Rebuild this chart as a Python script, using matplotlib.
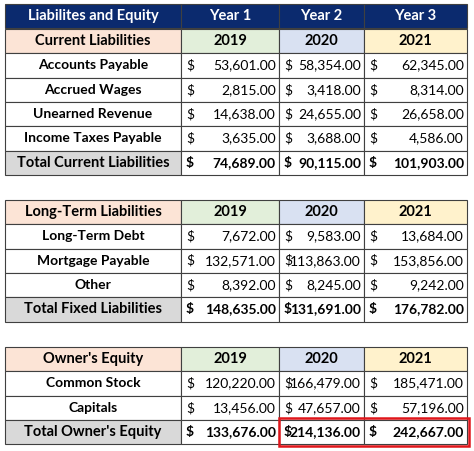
import matplotlib
matplotlib.use('agg')
import matplotlib.pyplot as plt
from matplotlib.patches import Rectangle

years = ['2019', '2020', '2021']
year_titles = ['Year 1', 'Year 2', 'Year 3']

sections = [
    ('Current Liabilities',
     ['Accounts Payable', 'Accrued Wages', 'Unearned Revenue', 'Income Taxes Payable'],
     [[53601, 58354, 62345], [2815, 3418, 8314], [14638, 24655, 26658], [3635, 3688, 4586]],
     'Total Current Liabilities', [74689, 90115, 101903]),
    ('Long-Term Liabilities',
     ['Long-Term Debt', 'Mortgage Payable', 'Other'],
     [[7672, 9583, 13684], [132571, 113863, 153856], [8392, 8245, 9242]],
     'Total Fixed Liabilities', [148635, 131691, 176782]),
    ("Owner's Equity",
     ['Common Stock', 'Capitals'],
     [[120220, 166479, 185471], [13456, 47657, 57196]],
     "Total Owner's Equity", [133676, 214136, 242667]),
]

plt.rcParams['font.family'] = ['Lato', 'DejaVu Sans']
fig = plt.figure(figsize=(4.74, 4.51), dpi=100)
ax = fig.add_axes([0, 0, 1, 1])
ax.set_xlim(0, 474)
ax.set_ylim(451, 0)
ax.axis('off')

cols = [5, 181, 279, 364, 467]
rh = 24.3
year_fill = ['#e2efda', '#d9e1f2', '#fff2cc']
fs = 10


def cell(x0, x1, y, fill='white'):
    ax.add_patch(Rectangle((x0, y), x1 - x0, rh, facecolor=fill, edgecolor='#404040', lw=0.8))


def money(ci, y, v, bold=False):
    w = 'bold' if bold else 'normal'
    cell(cols[ci + 1], cols[ci + 2], y)
    ax.text(cols[ci + 1] + 5, y + rh / 2, '$', ha='left', va='center', fontsize=fs, weight=w)
    ax.text(cols[ci + 2] - 3, y + rh / 2, f'{v:,.2f}', ha='right', va='center', fontsize=fs, weight=w)


# title row
y = 4
cell(cols[0], cols[1], y, '#0b2a6e')
ax.text((cols[0] + cols[1]) / 2, y + rh / 2, 'Liabilites and Equity', ha='center', va='center',
        color='white', weight='bold', fontsize=fs + 0.5)
for i, t in enumerate(year_titles):
    cell(cols[i + 1], cols[i + 2], y, '#0b2a6e')
    ax.text((cols[i + 1] + cols[i + 2]) / 2, y + rh / 2, t, ha='center', va='center',
            color='white', weight='bold', fontsize=fs + 0.5)

starts = [29, 200, 347]
for (head, labels, vals, tot_label, tots), y in zip(sections, starts):
    cell(cols[0], cols[1], y, '#fce4d6')
    ax.text((cols[0] + cols[1]) / 2, y + rh / 2, head, ha='center', va='center', weight='bold', fontsize=fs + 0.5)
    for i, yr in enumerate(years):
        cell(cols[i + 1], cols[i + 2], y, year_fill[i])
        ax.text((cols[i + 1] + cols[i + 2]) / 2, y + rh / 2, yr, ha='center', va='center', weight='bold', fontsize=fs + 0.5)
    y += rh
    for lab, row in zip(labels, vals):
        cell(cols[0], cols[1], y)
        ax.text((cols[0] + cols[1]) / 2, y + rh / 2, lab, ha='center', va='center', weight='bold', fontsize=fs)
        for i, v in enumerate(row):
            money(i, y, v)
        y += rh
    cell(cols[0], cols[1], y, '#d9d9d9')
    ax.text((cols[0] + cols[1]) / 2, y + rh / 2, tot_label, ha='center', va='center', weight='bold', fontsize=fs + 0.5)
    for i, v in enumerate(tots):
        money(i, y, v, bold=True)
    last_y = y

# highlight box around the last two totals
ax.add_patch(Rectangle((cols[2], last_y - 2), cols[4] - cols[2] + 2, rh + 4,
                       facecolor='none', edgecolor='#e0161b', lw=1.8, zorder=5))

fig.savefig('out.png', dpi=100)
